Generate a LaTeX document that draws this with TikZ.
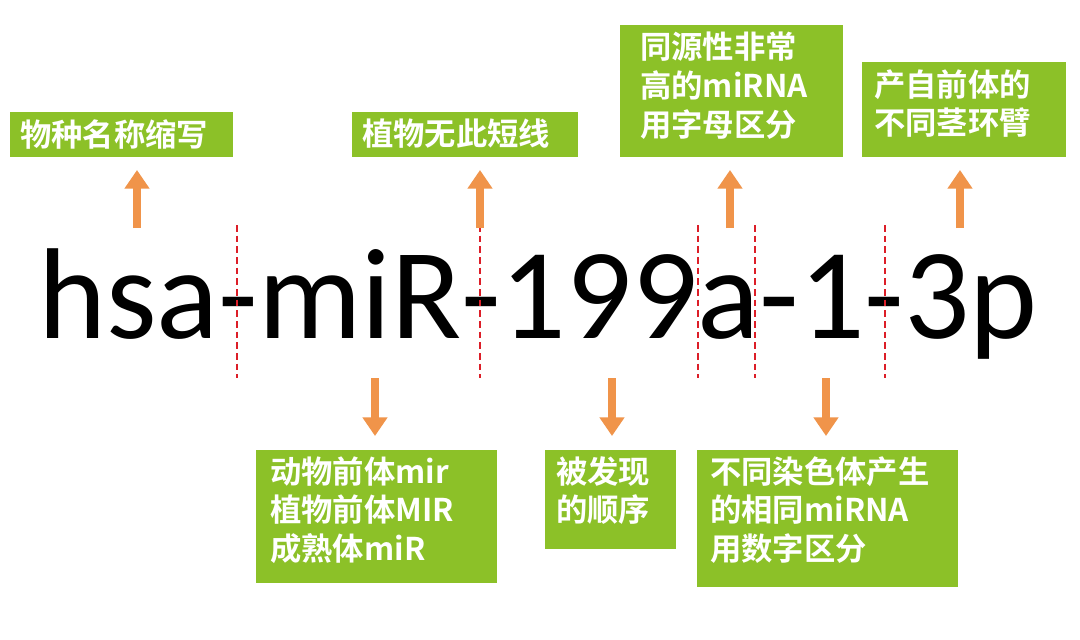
\documentclass[tikz,border=0pt]{standalone}
\usepackage{fontspec}
\setmainfont{Carlito}
\newfontfamily\cjk{Noto Sans CJK SC Bold}
\usetikzlibrary{arrows.meta}
\definecolor{grn}{RGB}{140,193,40}
\definecolor{org}{RGB}{240,148,74}
\definecolor{rdd}{RGB}{220,30,40}
\tikzset{
 lbl/.style={fill=grn,text=white,font=\cjk\fontsize{23.5}{29}\selectfont,align=left,inner sep=0pt,anchor=north west},
 arr/.style={org,line width=6pt,-{Triangle[length=14pt,width=18pt]}},
 sep/.style={rdd,dash pattern=on 5pt off 3pt,line width=0.9pt}
}
\begin{document}
\begin{tikzpicture}[x=0.75pt,y=-0.75pt]
\useasboundingbox (0,0) rectangle (1080,639);
\fill[white] (0,0) rectangle (1080,639);
% boxes
\fill[grn] (10,112) rectangle (233,157);
\node[lbl] (b1) at (20,119) {物种名称缩写};
\fill[grn] (352,112) rectangle (578,157);
\node[lbl] (b2) at (362,119) {植物无此短线};
\fill[grn] (620,25) rectangle (843,157);
\node[lbl] (b3) at (640,32) {同源性非常\\高的miRNA\\用字母区分};
\fill[grn] (862,62) rectangle (1066,157);
\node[lbl] (b4) at (874,69) {产自前体的\\不同茎环臂};
\fill[grn] (256,450) rectangle (497,583);
\node[lbl] (b5) at (270,456) {动物前体mir\\植物前体MIR\\成熟体miR};
\fill[grn] (545,450) rectangle (676,549);
\node[lbl] (b6) at (556,456) {被发现\\的顺序};
\fill[grn] (697,450) rectangle (958,587);
\node[lbl] (b7) at (710,456) {不同染色体产生\\的相同miRNA\\用数字区分};
% main text
\node[anchor=base,inner sep=0pt,font=\fontsize{97}{110}\selectfont] (t) at (538,338) {hsa-miR-199a-1-3p};
% separators
\foreach \x/\n in {237/s1,480/s2,698/s3,755/s4,885/s5}{
 \coordinate (\n a) at (\x,225); \coordinate (\n b) at (\x,378);
 \draw[sep] (\n a) -- (\n b);}
% arrows
\foreach \x/\n in {137/u1,480/u2,730/u3,960/u4}{
 \coordinate (\n a) at (\x,228); \coordinate (\n b) at (\x,170);
 \draw[arr] (\n a) -- (\n b);}
\foreach \x/\n in {375/d1,612/d2,826/d3}{
 \coordinate (\n a) at (\x,378); \coordinate (\n b) at (\x,436);
 \draw[arr] (\n a) -- (\n b);}
\end{tikzpicture}
\end{document}
